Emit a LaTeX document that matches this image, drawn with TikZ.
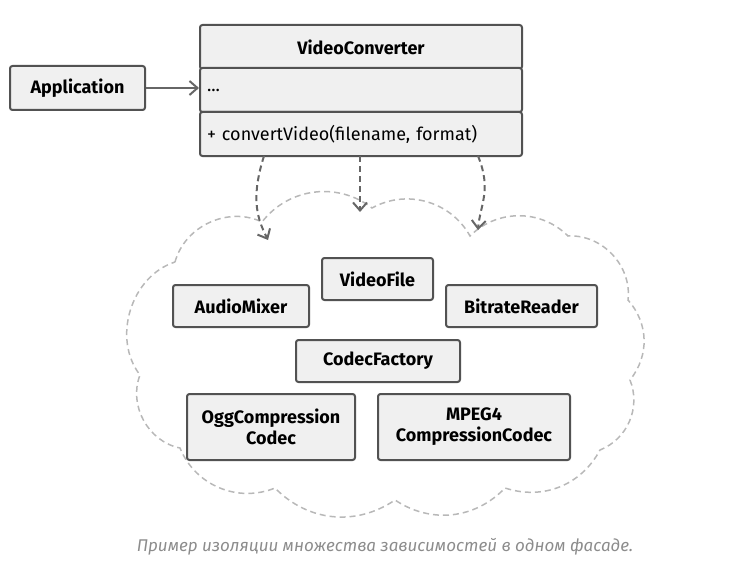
\documentclass[tikz,border=0pt]{standalone}
\usepackage{fontspec}
\setmainfont{Fira Sans}
\usetikzlibrary{arrows.meta}
\begin{document}
\begin{tikzpicture}[x=1pt,y=-1pt,
 box/.style={draw=black!68,line width=2pt,fill=black!6,rounded corners=2.5pt,font=\bfseries\fontsize{18}{21}\selectfont,align=center,inner sep=0pt},
 mem/.style={box,minimum width=322pt,minimum height=44pt,font=\fontsize{18}{21}\selectfont,text width=308pt,align=left},
 dep/.style={draw=black!60,line width=2pt,dash pattern=on 6pt off 4pt,-{Straight Barb[length=8pt,width=14pt]}}]
\useasboundingbox (0,0) rectangle (741,583);
% cloud
\draw[black!28,line width=1.5pt,dash pattern=on 6pt off 4pt]
 (175,262) to[bend left=50] (262,222) to[bend left=45] (372,208) to[bend left=45] (470,236)
 to[bend left=45] (568,236) to[bend left=50] (628,300) to[bend left=40] (630,380)
 to[bend left=45] (600,450) to[bend left=40] (505,488) to[bend left=40] (395,500)
 to[bend left=40] (275,488) to[bend left=45] (180,448) to[bend left=50] (140,375)
 to[bend left=55] (175,262);
% class
\node[box,minimum width=322pt,minimum height=44pt] (vc) at (361,47) {VideoConverter};
\node[mem] (vm) at (361,90) {...};
\node[mem] (vo) at (361,134) {+ convertVideo(filename, format)};
\node[box,minimum width=135pt,minimum height=44pt] (app) at (77.5,88) {Application};
\draw[draw=black!60,line width=2pt,-{Straight Barb[length=8pt,width=14pt]}] (app.east) -- (app.east-|vm.west);
\coordinate (s1) at (264,156);
\coordinate (s2) at (360,156);
\coordinate (s3) at (478,156);
\coordinate (t1) at (268,240);
\coordinate (t2) at (360,212);
\coordinate (t3) at (478,230);
\draw[dep] (s1) .. controls (250,200) and (258,220) .. (t1);
\draw[dep] (s2) -- (t2);
\draw[dep] (s3) .. controls (492,190) and (480,205) .. (t3);
% inner boxes
\node[box,minimum width=111pt,minimum height=42pt] (vf) at (377.5,279) {VideoFile};
\node[box,minimum width=136pt,minimum height=42pt] (am) at (241,306) {AudioMixer};
\node[box,minimum width=151pt,minimum height=42pt] (br) at (521.5,306) {BitrateReader};
\node[box,minimum width=164pt,minimum height=42pt] (cf) at (378,361) {CodecFactory};
\node[box,minimum width=168pt,minimum height=66pt] (ogg) at (271,427) {OggCompression\\Codec};
\node[box,minimum width=192pt,minimum height=66pt] (mp) at (474,427) {MPEG4\\CompressionCodec};
\node[text=black!45,font=\itshape\fontsize{17}{20}\selectfont] (cap) at (385,547) {Пример изоляции множества зависимостей в одном фасаде.};
\end{tikzpicture}
\end{document}
